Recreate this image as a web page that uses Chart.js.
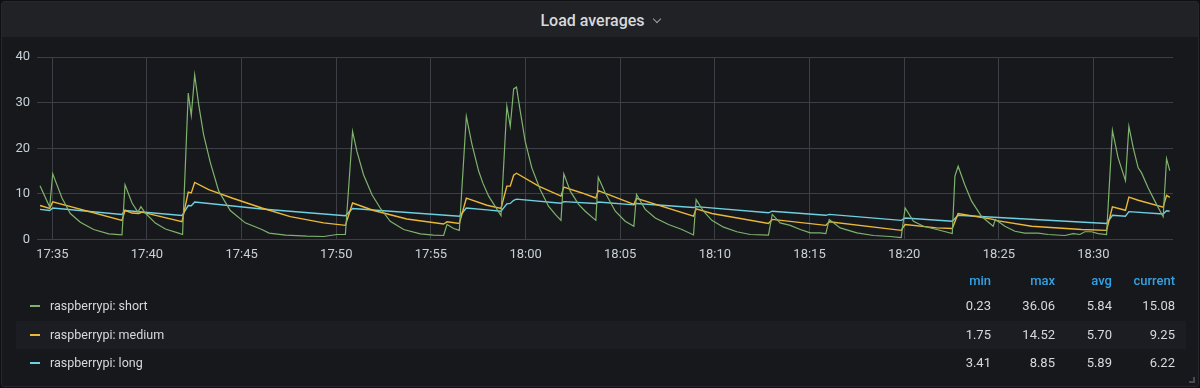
<!DOCTYPE html>
<html>
<head>
<meta charset="utf-8">
<script src="https://cdn.jsdelivr.net/npm/chart.js@4.4.1/dist/chart.umd.min.js"></script>
<style>
  body { margin: 0; background: #0f1013; font-family: Roboto, "Noto Sans", sans-serif; }
  .panel { position: absolute; left: 1px; top: 1px; width: 1196px; height: 384px;
           background: #17181c; border: 1px solid #26272c; border-radius: 3px; overflow: hidden; }
  .header { position: absolute; left: 0; top: 0; width: 100%; height: 35px; background: #202226; }
  .title { position: absolute; left: 0; width: 100%; top: 9px; text-align: center;
           color: #d8d9da; font-size: 16px; font-weight: 500; }
  .chev { display: inline-block; width: 5px; height: 5px; border-right: 1px solid #9fa1a6;
          border-bottom: 1px solid #9fa1a6; transform: rotate(45deg); margin-left: 9px; position: relative; top: -4px; }
  .chart-box { position: absolute; left: -1px; top: 35px; width: 1190px; height: 230px; }
  .legend { position: absolute; left: 0; top: 0; width: 100%; height: 100%; color: #d8d9da; font-size: 13px; }
  .row { position: absolute; left: 14px; width: 1170px; height: 28px; line-height: 28px; }
  .row.hl { background: #1c1d22; }
  .sw { position: absolute; left: 14px; top: 13px; width: 10px; height: 2px; }
  .lbl { position: absolute; left: 34px; top: 0; font-size: 12.5px; }
  .num { position: absolute; top: 0; text-align: right; width: 60px; }
  .hd { color: #33a2e5; font-weight: 500; }
  .grip { position: absolute; right: 3px; bottom: 3px; width: 4px; height: 4px;
          border-right: 2px solid #4a4b50; border-bottom: 2px solid #4a4b50; }
</style>
</head>
<body>
<div class="panel">
  <div class="header"><div class="title">Load averages<span class="chev"></span></div></div>
  <div class="chart-box"><canvas id="myChart"></canvas></div>
  <div class="legend" id="legend"></div>
  <div class="grip"></div>
</div>
<script>
// minutes after 17:00
const shortTimes = [34.35,34.86,35.02,35.51,35.95,36.48,37.18,37.98,38.68,38.84,39.21,39.52,39.68,39.91,40.44,40.97,41.67,41.88,
  42.18,42.34,42.52,42.73,42.99,43.35,43.79,44.40,45.19,46.07,46.45,47.33,48.45,49.33,50.04,50.48,50.86,51.09,51.44,51.88,
  52.32,52.85,53.56,54.44,55.14,55.67,55.85,56.20,56.50,56.87,57.17,57.52,57.75,58.05,58.49,58.70,59.01,59.19,59.37,59.52,
  59.72,59.98,60.33,60.77,61.21,61.57,61.87,62.02,62.36,62.80,63.15,63.71,63.84,64.21,64.74,65.26,65.72,65.86,66.32,66.85,
  67.55,68.26,68.87,69.01,69.40,69.84,70.46,71.16,71.87,72.83,73.03,73.45,73.98,74.51,75.04,75.56,75.86,76.04,76.62,77.50,
  78.38,79.26,79.84,80.05,80.49,81.02,81.72,82.54,82.68,82.85,83.20,83.56,84.08,84.70,84.82,85.32,85.85,86.37,87.08,87.60,
  88.49,88.93,89.28,89.54,89.89,90.25,90.69,91.00,91.30,91.69,91.87,92.10,92.36,92.54,92.89,93.33,93.68,93.86,94.03];
const shortLoad = [11.8,7.1,14.4,9.1,5.7,3.8,2.2,1.24,1.0,12.0,8.0,6.0,7.2,5.8,3.6,2.3,1.4,1.1,
  32.1,27.2,36.06,29.6,23.0,16.8,10.6,6.35,3.65,2.2,1.4,0.95,0.73,0.66,1.1,1.1,23.7,19.3,14.2,9.85,
  6.9,4.0,2.2,1.24,0.95,0.88,3.3,2.4,2.0,27.0,20.8,15.0,12.3,9.5,6.6,5.25,29.2,24.8,33.0,33.4,
  28.1,21.5,15.7,10.95,7.3,5.5,4.2,14.4,10.6,7.7,6.2,4.2,13.65,10.2,6.2,4.0,2.9,9.85,6.6,4.7,
  3.3,2.2,1.0,8.75,6.2,4.2,2.7,1.7,1.1,0.95,5.5,3.65,3.1,2.2,1.46,1.46,1.3,4.4,2.55,1.46,
  0.88,0.66,0.4,6.9,4.0,2.9,2.2,1.3,13.9,16.06,12.0,8.4,5.1,2.9,4.4,2.9,1.8,1.4,1.4,1.1,
  0.88,1.3,1.1,1.7,1.7,1.3,1.1,23.9,17.9,12.9,24.8,20.1,15.7,14.6,11.3,7.7,5.0,17.7,15.08];

const mediumTimes = [34.35,34.86,35.02,38.68,38.84,39.21,39.56,39.74,41.85,42.18,42.34,42.52,43.26,44.49,46.07,47.57,49.33,
  50.48,50.86,51.97,53.73,55.67,55.85,56.50,56.87,57.96,58.70,59.01,59.19,59.37,59.52,60.69,61.87,62.02,62.98,63.71,63.84,
  65.72,65.86,68.87,69.01,69.84,72.83,73.03,75.86,76.04,79.84,80.05,81.72,82.54,82.85,84.70,84.82,86.73,89.37,90.69,
  91.00,91.69,91.87,92.36,93.68,93.86,94.03];
const mediumLoad = [7.45,6.8,8.25,4.2,6.4,5.8,5.7,6.0,3.9,10.4,10.2,12.5,10.95,9.1,6.9,5.0,3.65,
  3.1,8.0,6.35,4.5,3.4,3.9,3.5,9.05,7.5,6.8,11.7,11.7,14.1,14.52,11.7,9.5,11.5,10.2,9.1,10.7,
  7.7,9.0,5.1,6.7,5.7,3.5,4.4,3.1,3.9,2.0,3.3,2.55,2.4,5.7,4.4,4.2,2.9,2.2,2.0,
  7.15,6.4,9.3,8.6,7.1,9.7,9.25];

const longTimes = [34.35,34.86,35.02,38.68,38.84,41.85,42.18,42.34,42.52,46.07,50.48,50.86,56.51,56.87,57.96,58.70,59.01,
  59.19,59.37,59.52,61.87,62.02,63.71,63.84,65.72,65.86,68.87,69.01,72.83,73.03,75.86,76.04,79.84,80.05,82.54,82.85,
  90.69,91.00,91.69,91.87,93.68,93.86,94.03];
const longLoad = [6.6,6.35,6.9,5.5,6.35,5.25,7.45,7.4,8.2,6.7,5.2,6.8,5.1,6.9,6.5,6.2,7.8,
  7.9,8.6,8.85,7.95,8.3,7.9,8.2,7.6,7.9,7.0,7.2,5.85,6.2,5.3,5.5,4.2,4.7,4.0,5.3,
  3.5,5.3,5.1,6.1,5.6,6.3,6.22];

const seriesNames = ["raspberrypi: short", "raspberrypi: medium", "raspberrypi: long"];
const seriesColors = ["#7eb26d", "#eab839", "#6ed0e0"];
const statHeaders = ["min", "max", "avg", "current"];
const statValues = [
  ["0.23", "36.06", "5.84", "15.08"],
  ["1.75", "14.52", "5.70", "9.25"],
  ["3.41", "8.85", "5.89", "6.22"]
];
const xTicks = [35,40,45,50,55,60,65,70,75,80,85,90];

const pts = (t, v) => t.map((x, i) => ({x: x, y: v[i]}));
const fmt = (m) => {
  const h = 17 + Math.floor(m / 60);
  const mm = m % 60;
  return h + ":" + (mm < 10 ? "0" : "") + mm;
};

const gridColor = "#3c3f45";
const tickColor = "#c7d0d9";

new Chart("myChart", {
  type: "line",
  data: {
    datasets: [
      {label: seriesNames[0], data: pts(shortTimes, shortLoad), borderColor: seriesColors[0], borderWidth: 1.2},
      {label: seriesNames[1], data: pts(mediumTimes, mediumLoad), borderColor: seriesColors[1], borderWidth: 1.4},
      {label: seriesNames[2], data: pts(longTimes, longLoad), borderColor: seriesColors[2], borderWidth: 1.4}
    ]
  },
  options: {
    responsive: true,
    maintainAspectRatio: false,
    animation: false,
    layout: {padding: {top: 20, right: 18, left: 0, bottom: 0}},
    elements: {point: {radius: 0}, line: {tension: 0, fill: false}},
    plugins: {legend: {display: false}, tooltip: {enabled: false}},
    scales: {
      x: {
        type: "linear",
        min: 34.19,
        max: 94.2,
        afterBuildTicks: (s) => { s.ticks = xTicks.map(v => ({value: v})); },
        afterFit: (s) => { s.height = 27.5; },
        grid: {color: gridColor, drawTicks: false},
        border: {display: false},
        ticks: {color: tickColor, font: {family: "Roboto", size: 13}, padding: 7, maxRotation: 0,
                callback: (v) => fmt(v)}
      },
      y: {
        min: 0,
        max: 40,
        afterFit: (s) => { s.width = 36; },
        grid: {color: gridColor, drawTicks: false},
        border: {display: false},
        ticks: {color: tickColor, font: {family: "Roboto", size: 13}, padding: 7, stepSize: 10}
      }
    }
  }
});

// legend table
const legend = document.getElementById("legend");
const rightEdges = [989, 1053, 1110, 1173];
let html = "";
statHeaders.forEach((h, i) => {
  html += `<div class="num hd" style="left:${rightEdges[i] - 60}px;top:265px;line-height:28px">${h}</div>`;
});
seriesNames.forEach((name, r) => {
  const top = 290 + r * 28.5;
  html += `<div class="row${r === 1 ? " hl" : ""}" style="top:${top}px">` +
    `<div class="sw" style="background:${seriesColors[r]}"></div><div class="lbl">${name}</div></div>`;
  statValues[r].forEach((v, i) => {
    html += `<div class="num" style="left:${rightEdges[i] - 60}px;top:${top}px;line-height:28px">${v}</div>`;
  });
});
legend.innerHTML = html;
</script>
</body>
</html>
